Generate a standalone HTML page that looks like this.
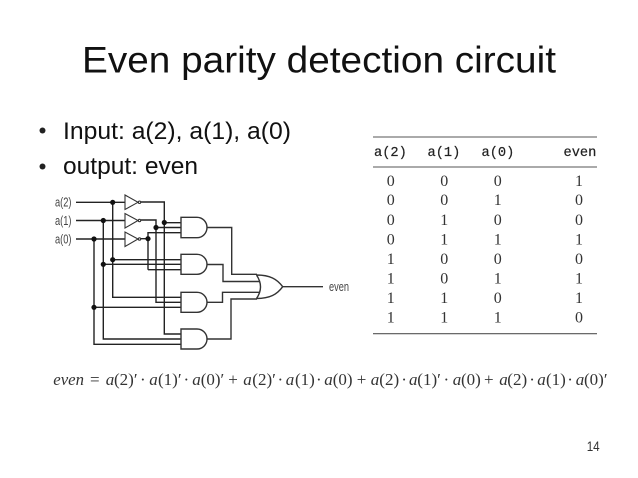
<!DOCTYPE html>
<html><head><meta charset="utf-8"><style>
html,body{margin:0;padding:0;background:#fff;width:638px;height:478px;overflow:hidden}
svg{display:block}
.s{font-family:"Liberation Sans",sans-serif}
.w{fill:none;stroke:#222;stroke-width:1.4}
.g{fill:none;stroke:#333;stroke-width:1.4}
.d{fill:#111}
.t{font-family:"Liberation Serif",serif;font-size:16px;fill:#333;text-anchor:middle}
.m{font-family:"Liberation Mono",monospace;font-size:13.7px;fill:#222;stroke:#222;stroke-width:.2}
.e{font-family:"Liberation Serif",serif;font-size:17px;fill:#333}
.i{font-style:italic}
</style></head><body>
<svg width="638" height="478" viewBox="0 0 638 478" xmlns="http://www.w3.org/2000/svg">
<text class="s" x="82" y="72.7" font-size="37.3" fill="#111" textLength="474" lengthAdjust="spacingAndGlyphs">Even parity detection circuit</text>
<circle cx="42.5" cy="130.5" r="3" fill="#222"/><circle cx="42.5" cy="166.5" r="3" fill="#222"/>
<text class="s" x="63" y="139" font-size="24" fill="#111" textLength="228" lengthAdjust="spacingAndGlyphs">Input: a(2), a(1), a(0)</text>
<text class="s" x="63" y="174" font-size="24" fill="#111" textLength="135" lengthAdjust="spacingAndGlyphs">output: even</text>

<g class="s" font-size="12.5" fill="#444">
<text x="55" y="206.5" textLength="16.5" lengthAdjust="spacingAndGlyphs">a(2)</text><text x="55" y="225" textLength="16.5" lengthAdjust="spacingAndGlyphs">a(1)</text><text x="55" y="243.5" textLength="16.5" lengthAdjust="spacingAndGlyphs">a(0)</text>
<text x="329" y="291" textLength="20" lengthAdjust="spacingAndGlyphs">even</text>
</g>
<!-- inputs -->
<path class="w" d="M76 202.3H125M76 220.5H125M76 239H125"/>
<path class="w" d="M112.7 202.3V297.3H181M103.3 220.5V339H181M94 239V344.3H181"/>
<path class="w" d="M112.7 259.7H181M103.3 264.3H181M94 307.3H181"/>
<!-- inverters -->
<g class="g" style="stroke-width:1.1">
<path style="fill:#fff" d="M125 195V209.5L138 202.3Z"/><path style="fill:#fff" d="M125 213.5V228L138 220.5Z"/><path style="fill:#fff" d="M125 232V246.5L138 239Z"/>
<circle cx="139.5" cy="202.3" r="1.2"/><circle cx="139.5" cy="220.5" r="1.2"/><circle cx="139.5" cy="239" r="1.2"/>
</g>
<!-- inverted outputs -->
<path class="w" d="M141 202H164.3V334H181M141 220H156V302.3H181M141 238.7H148"/>
<path class="w" d="M148 269.7V232.7H181M148 269.7H181M164.3 222.7H181M156 227.5H181"/>
<!-- dots -->
<g class="d">
<circle cx="112.7" cy="202.3" r="2.6"/><circle cx="103.3" cy="220.5" r="2.6"/><circle cx="94" cy="239" r="2.6"/>
<circle cx="112.7" cy="259.7" r="2.6"/><circle cx="103.3" cy="264.3" r="2.6"/><circle cx="94" cy="307.3" r="2.6"/>
<circle cx="164.3" cy="222.5" r="2.6"/><circle cx="156" cy="227.5" r="2.6"/><circle cx="148" cy="238.7" r="2.6"/>
</g>
<!-- AND gates -->
<g class="g">
<path d="M181 217.3H197A10 10.2 0 0 1 197 237.7H181Z"/>
<path d="M181 254.3H197A10 10 0 0 1 197 274.3H181Z"/>
<path d="M181 292.3H197A10 10 0 0 1 197 312.3H181Z"/>
<path d="M181 329H197A10 10 0 0 1 197 349H181Z"/>
<path d="M207.3 227.5H231.7V274.3H257M207.3 264.5H223V281.5H259.5M207.3 302.3H222.5V292.3H259.5M207.3 339H231V299H257"/>
<path d="M256.5 275Q264.5 287 256.5 298.5M256.5 275C270 275 277 279 282.7 286.7C277 294.5 270 298.5 256.5 298.5M282.7 286.7H323"/>
</g>
<!-- table -->
<path d="M373 137H597M373 167H597M373 333.7H597" stroke="#555" stroke-width="1.1" fill="none"/>
<text class="m" x="374" y="156">a(2)</text><text class="m" x="427.5" y="156">a(1)</text><text class="m" x="481.5" y="156">a(0)</text><text class="m" x="563.5" y="156">even</text>
<g class="t">
<text x="390.7" y="186">0</text><text x="444.3" y="186">0</text><text x="497.7" y="186">0</text><text x="579" y="186">1</text>
<text x="390.7" y="205">0</text><text x="444.3" y="205">0</text><text x="497.7" y="205">1</text><text x="579" y="205">0</text>
<text x="390.7" y="225">0</text><text x="444.3" y="225">1</text><text x="497.7" y="225">0</text><text x="579" y="225">0</text>
<text x="390.7" y="244.5">0</text><text x="444.3" y="244.5">1</text><text x="497.7" y="244.5">1</text><text x="579" y="244.5">1</text>
<text x="390.7" y="264">1</text><text x="444.3" y="264">0</text><text x="497.7" y="264">0</text><text x="579" y="264">0</text>
<text x="390.7" y="283.5">1</text><text x="444.3" y="283.5">0</text><text x="497.7" y="283.5">1</text><text x="579" y="283.5">1</text>
<text x="390.7" y="303">1</text><text x="444.3" y="303">1</text><text x="497.7" y="303">0</text><text x="579" y="303">1</text>
<text x="390.7" y="322.5">1</text><text x="444.3" y="322.5">1</text><text x="497.7" y="322.5">1</text><text x="579" y="322.5">0</text>
</g>
<!-- equation -->
<g class="e">
<text class="i" x="53.3" y="385" textLength="30.7" lengthAdjust="spacingAndGlyphs">even</text><text x="90" y="385">=</text>
<text class="i" x="105.7" y="385">a</text><text x="114" y="385">(2)′</text><text x="140" y="385">·</text>
<text class="i" x="149.3" y="385">a</text><text x="158" y="385">(1)′</text><text x="183.5" y="385">·</text>
<text class="i" x="192.3" y="385">a</text><text x="200.7" y="385">(0)′</text><text x="228.3" y="385">+</text>
<text class="i" x="243.3" y="385">a</text><text x="252.3" y="385">(2)′</text><text x="277.5" y="385">·</text>
<text class="i" x="285.7" y="385">a</text><text x="295" y="385">(1)</text><text x="316" y="385">·</text>
<text class="i" x="324.3" y="385">a</text><text x="332.7" y="385">(0)</text><text x="356.7" y="385">+</text>
<text class="i" x="370.7" y="385">a</text><text x="379.3" y="385">(2)</text><text x="401.2" y="385">·</text>
<text class="i" x="409" y="385">a</text><text x="417.3" y="385">(1)′</text><text x="443.5" y="385">·</text>
<text class="i" x="452.7" y="385">a</text><text x="461" y="385">(0)</text><text x="484" y="385">+</text>
<text class="i" x="499.3" y="385">a</text><text x="507.3" y="385">(2)</text><text x="529.2" y="385">·</text>
<text class="i" x="537.3" y="385">a</text><text x="546" y="385">(1)</text><text x="567.2" y="385">·</text>
<text class="i" x="575.7" y="385">a</text><text x="584" y="385">(0)′</text>
</g>
<text class="s" x="586.7" y="451" font-size="13.5" fill="#333" textLength="13" lengthAdjust="spacingAndGlyphs">14</text>
</svg>
</body></html>
